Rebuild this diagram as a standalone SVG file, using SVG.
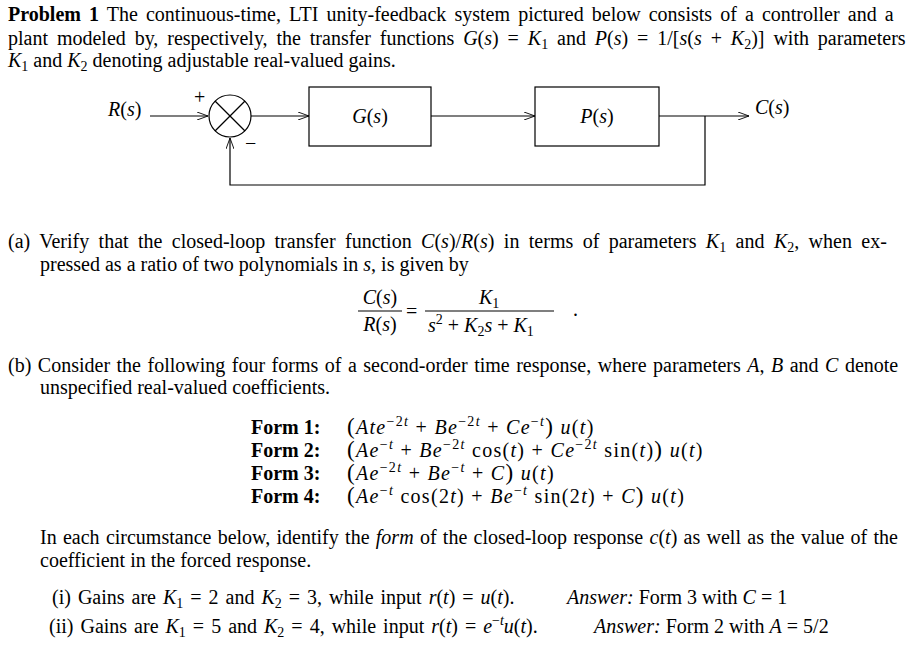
<svg xmlns="http://www.w3.org/2000/svg" width="916" height="649" viewBox="0 0 916 649">
<style>
text{font-family:"Liberation Serif","DejaVu Serif",serif;font-size:20px;fill:#000}
.i{font-style:italic}
.b{font-weight:bold}
.s{font-size:14px}
.f{letter-spacing:1.3px}
.ln{stroke:#000;stroke-width:1.2;fill:none}
.bx{stroke:#000;stroke-width:1.2;fill:#fff}
</style>
<defs>
<marker id="ar" markerWidth="12" markerHeight="8" refX="11" refY="4" orient="auto" markerUnits="userSpaceOnUse">
<path d="M0,0 L11,4 L0,8" fill="none" stroke="#000" stroke-width="0.9"/>
</marker>
</defs>
<rect width="916" height="649" fill="#fff"/>

<text x="8" y="21" word-spacing="3.1"><tspan class="b">Problem 1</tspan>   The continuous-time, LTI unity-feedback system pictured below consists of a controller and a</text>
<text x="8" y="45" word-spacing="3.9">plant modeled by, respectively, the transfer functions <tspan class="i">G</tspan>(<tspan class="i">s</tspan>) = <tspan class="i">K</tspan><tspan class="s" dy="4">1</tspan><tspan dy="-4"> and </tspan><tspan class="i">P</tspan>(<tspan class="i">s</tspan>) = 1/[<tspan class="i">s</tspan>(<tspan class="i">s</tspan> + <tspan class="i">K</tspan><tspan class="s" dy="4">2</tspan><tspan dy="-4">)] with parameters</tspan></text>
<text x="8" y="67"><tspan class="i">K</tspan><tspan class="s" dy="4">1</tspan><tspan dy="-4"> and </tspan><tspan class="i">K</tspan><tspan class="s" dy="4">2</tspan><tspan dy="-4"> denoting adjustable real-valued gains.</tspan></text>

<g id="connectors">
<line class="ln" x1="150" y1="116" x2="208" y2="116" marker-end="url(#ar)"/>
<line class="ln" x1="251" y1="116" x2="309" y2="116" marker-end="url(#ar)"/>
<line class="ln" x1="431" y1="116" x2="535" y2="116" marker-end="url(#ar)"/>
<line class="ln" x1="659" y1="116" x2="749" y2="116" marker-end="url(#ar)"/>
<polyline class="ln" points="705,116 705,185 230,185 230,138" marker-end="url(#ar)"/>
</g>
<g id="R"><text x="108" y="116" class="i">R<tspan font-style="normal">(</tspan>s<tspan font-style="normal">)</tspan></text></g>
<g id="sum">
<circle class="bx" cx="230" cy="116" r="21"/>
<line class="ln" x1="215" y1="101" x2="245" y2="131" stroke-width="0.9"/>
<line class="ln" x1="245" y1="101" x2="215" y2="131" stroke-width="0.9"/>
<text x="194" y="104" font-size="15">+</text>
<text x="245" y="150" font-size="15">−</text>
</g>
<g id="G"><rect class="bx" x="309" y="87" width="122" height="59"/><text x="370" y="123" text-anchor="middle"><tspan class="i">G</tspan>(<tspan class="i">s</tspan>)</text></g>
<g id="P"><rect class="bx" x="535" y="87" width="124" height="59"/><text x="597" y="123" text-anchor="middle"><tspan class="i">P</tspan>(<tspan class="i">s</tspan>)</text></g>
<g id="C"><text x="755" y="114"><tspan class="i">C</tspan>(<tspan class="i">s</tspan>)</text></g>

<text x="8" y="248" word-spacing="4.4">(a) Verify that the closed-loop transfer function <tspan class="i">C</tspan>(<tspan class="i">s</tspan>)/<tspan class="i">R</tspan>(<tspan class="i">s</tspan>) in terms of parameters <tspan class="i">K</tspan><tspan class="s" dy="4">1</tspan><tspan dy="-4"> and </tspan><tspan class="i">K</tspan><tspan class="s" dy="4">2</tspan><tspan dy="-4">, when ex-</tspan></text>
<text x="40" y="271">pressed as a ratio of two polynomials in <tspan class="i">s</tspan>, is given by</text>
<text x="380" y="304" text-anchor="middle"><tspan class="i">C</tspan>(<tspan class="i">s</tspan>)</text>
<line class="ln" x1="358" y1="311" x2="402" y2="311"/>
<text x="380" y="331" text-anchor="middle"><tspan class="i">R</tspan>(<tspan class="i">s</tspan>)</text>
<text x="406" y="318">=</text>
<text x="479" y="304"><tspan class="i">K</tspan><tspan class="s" dy="4">1</tspan></text>
<line class="ln" x1="425" y1="311" x2="554" y2="311"/>
<text x="428" y="332"><tspan class="i">s</tspan><tspan class="s" dy="-8">2</tspan><tspan dy="8"> + </tspan><tspan class="i">K</tspan><tspan class="s" dy="4">2</tspan><tspan class="i" dy="-4">s</tspan> + <tspan class="i">K</tspan><tspan class="s" dy="4">1</tspan></text>
<text x="573" y="316">.</text>

<text x="8" y="372" word-spacing="1.5">(b) Consider the following four forms of a second-order time response, where parameters <tspan class="i">A</tspan>, <tspan class="i">B</tspan> and <tspan class="i">C</tspan> denote</text>
<text x="40" y="394">unspecified real-valued coefficients.</text>

<text x="251" y="434" class="b">Form 1:</text>
<text x="251" y="457" class="b">Form 2:</text>
<text x="251" y="480" class="b">Form 3:</text>
<text x="251" y="503" class="b">Form 4:</text>
<text x="347" y="434" class="f"><tspan font-size="23">(</tspan><tspan class="i">Ate</tspan><tspan class="s" dy="-8">−2<tspan class="i">t</tspan></tspan><tspan dy="8"> + </tspan><tspan class="i">Be</tspan><tspan class="s" dy="-8">−2<tspan class="i">t</tspan></tspan><tspan dy="8"> + </tspan><tspan class="i">Ce</tspan><tspan class="s" dy="-8">−<tspan class="i">t</tspan></tspan><tspan dy="8" font-size="23">)</tspan> <tspan class="i">u</tspan>(<tspan class="i">t</tspan>)</text>
<text x="347" y="457" class="f"><tspan font-size="23">(</tspan><tspan class="i">Ae</tspan><tspan class="s" dy="-8">−<tspan class="i">t</tspan></tspan><tspan dy="8"> + </tspan><tspan class="i">Be</tspan><tspan class="s" dy="-8">−2<tspan class="i">t</tspan></tspan><tspan dy="8"> cos(</tspan><tspan class="i">t</tspan>) + <tspan class="i">Ce</tspan><tspan class="s" dy="-8">−2<tspan class="i">t</tspan></tspan><tspan dy="8"> sin(</tspan><tspan class="i">t</tspan>)<tspan font-size="23">)</tspan> <tspan class="i">u</tspan>(<tspan class="i">t</tspan>)</text>
<text x="347" y="480" class="f"><tspan font-size="23">(</tspan><tspan class="i">Ae</tspan><tspan class="s" dy="-8">−2<tspan class="i">t</tspan></tspan><tspan dy="8"> + </tspan><tspan class="i">Be</tspan><tspan class="s" dy="-8">−<tspan class="i">t</tspan></tspan><tspan dy="8"> + </tspan><tspan class="i">C</tspan><tspan font-size="23">)</tspan> <tspan class="i">u</tspan>(<tspan class="i">t</tspan>)</text>
<text x="347" y="503" class="f"><tspan font-size="23">(</tspan><tspan class="i">Ae</tspan><tspan class="s" dy="-8">−<tspan class="i">t</tspan></tspan><tspan dy="8"> cos(2</tspan><tspan class="i">t</tspan>) + <tspan class="i">Be</tspan><tspan class="s" dy="-8">−<tspan class="i">t</tspan></tspan><tspan dy="8"> sin(2</tspan><tspan class="i">t</tspan>) + <tspan class="i">C</tspan><tspan font-size="23">)</tspan> <tspan class="i">u</tspan>(<tspan class="i">t</tspan>)</text>

<text x="40" y="544" word-spacing="1.3">In each circumstance below, identify the <tspan class="i">form</tspan> of the closed-loop response <tspan class="i">c</tspan>(<tspan class="i">t</tspan>) as well as the value of the</text>
<text x="40" y="567">coefficient in the forced response.</text>

<text x="52" y="604" word-spacing="2">(i) Gains are <tspan class="i">K</tspan><tspan class="s" dy="4">1</tspan><tspan dy="-4"> = 2 and </tspan><tspan class="i">K</tspan><tspan class="s" dy="4">2</tspan><tspan dy="-4"> = 3, while input </tspan><tspan class="i">r</tspan>(<tspan class="i">t</tspan>) = <tspan class="i">u</tspan>(<tspan class="i">t</tspan>).</text>
<text x="567" y="604"><tspan class="i">Answer:</tspan> Form 3 with <tspan class="i">C</tspan> = 1</text>
<text x="49" y="633" word-spacing="2">(ii) Gains are <tspan class="i">K</tspan><tspan class="s" dy="4">1</tspan><tspan dy="-4"> = 5 and </tspan><tspan class="i">K</tspan><tspan class="s" dy="4">2</tspan><tspan dy="-4"> = 4, while input </tspan><tspan class="i">r</tspan>(<tspan class="i">t</tspan>) = <tspan class="i">e</tspan><tspan class="s" dy="-8">−<tspan class="i">t</tspan></tspan><tspan class="i" dy="8">u</tspan>(<tspan class="i">t</tspan>).</text>
<text x="594" y="633"><tspan class="i">Answer:</tspan> Form 2 with <tspan class="i">A</tspan> = 5/2</text>
</svg>
